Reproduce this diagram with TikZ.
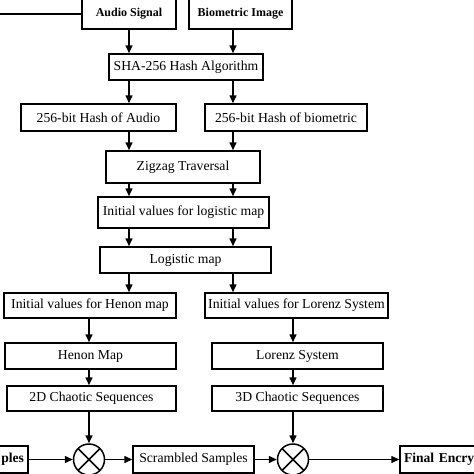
\documentclass[tikz,border=0pt]{standalone}
\usepackage{fontspec}
\setmainfont{Liberation Serif}
\usetikzlibrary{arrows.meta}
\begin{document}
\begin{tikzpicture}[x=1pt,y=-1pt,line width=1.5pt,
	blk/.style={draw,inner sep=1pt,font=\fontsize{13.7}{16}\selectfont},
	bld/.style={blk,font=\fontsize{12}{14}\selectfont\bfseries},
	bldl/.style={blk,font=\fontsize{13.6}{16}\selectfont\bfseries},
	arr/.style={-{Triangle[length=8pt,width=7pt]}},
	mul/.style={draw,circle,minimum size=31pt,inner sep=0pt,path picture={\draw (path picture bounding box.north west) -- (path picture bounding box.south east) (path picture bounding box.north east) -- (path picture bounding box.south west);}}]
	\useasboundingbox (0,0) rectangle (474,474);
	\clip (0,0) rectangle (474,474);
	\coordinate (ca) at (129,0);
	\coordinate (cb) at (233,0);
	\coordinate (cc) at (89,0);
	\coordinate (cd) at (293,0);
	\coordinate (lin) at (-10,14);
	\node[bld,minimum width=94,minimum height=30] (audio) at (129,14) {Audio Signal};
	\node[bld,minimum width=103,minimum height=30] (bio) at (240.5,14) {Biometric Image};
	\node[blk,minimum width=154,minimum height=26] (sha) at (186,67) {SHA-256 Hash Algorithm};
	\node[blk,minimum width=155,minimum height=27] (hasha) at (98.5,117.5) {256-bit Hash of Audio};
	\node[blk,minimum width=162,minimum height=27] (hashb) at (286,117.5) {256-bit Hash of biometric};
	\node[blk,minimum width=154,minimum height=32] (zig) at (183,167) {Zigzag Traversal};
	\node[blk,minimum width=171,minimum height=31] (initlog) at (183.5,212.5) {Initial values for logistic map};
	\node[blk,minimum width=171,minimum height=26] (logmap) at (185.5,260) {Logistic map};
	\node[blk,minimum width=172,minimum height=25] (inithen) at (90,305.5) {Initial values for Henon map};
	\node[blk,minimum width=183,minimum height=25] (initlor) at (296.5,305.5) {Initial values for Lorenz System};
	\node[blk,minimum width=171,minimum height=26] (henon) at (90.5,356) {Henon Map};
	\node[blk,minimum width=171,minimum height=26] (lorenz) at (297.5,356) {Lorenz System};
	\node[blk,minimum width=169,minimum height=25] (chaos2) at (91.5,398.5) {2D Chaotic Sequences};
	\node[blk,minimum width=171,minimum height=25] (chaos3) at (297.5,398.5) {3D Chaotic Sequences};
	\node[mul] (mula) at (89,459.5) {};
	\node[mul] (mulb) at (293,459.5) {};
	\node[bldl,minimum height=27,text width=80,align=right,inner xsep=4pt] (smp) at (-16,459.5) {ples};
	\node[blk,minimum width=121,minimum height=27] (scr) at (193.5,459.5) {Scrambled Samples};
	\node[bldl,minimum height=27,text width=152,align=left,inner xsep=4pt] (final) at (480,459.5) {Final Encry};
	\draw (lin) -- (audio.west);
	\foreach \a/\b/\c in {audio/sha/ca,bio/sha/cb,sha/hasha/ca,sha/hashb/cb,hasha/zig/ca,hashb/zig/cb,zig/initlog/ca,zig/initlog/cb,initlog/logmap/ca,initlog/logmap/cb,logmap/inithen/ca,logmap/initlor/cb,inithen/henon/cc,initlor/lorenz/cd,henon/chaos2/cc,lorenz/chaos3/cd,chaos2/mula/cc,chaos3/mulb/cd}
		\draw[arr] (\a.south -| \c) -- (\b.north -| \c);
	\draw[arr] (smp.east) -- (mula.west);
	\draw[arr] (mula.east) -- (scr.west);
	\draw[arr] (scr.east) -- (mulb.west);
	\draw[arr] (mulb.east) -- (final.west);
\end{tikzpicture}
\end{document}
